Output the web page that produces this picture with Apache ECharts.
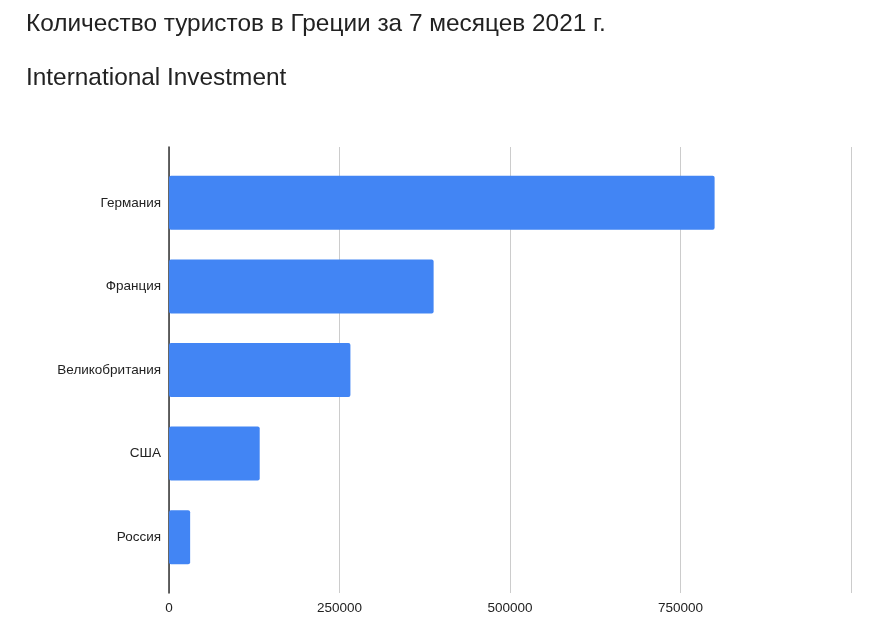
<!DOCTYPE html>
<html><head><meta charset="utf-8">
<script src="https://cdn.jsdelivr.net/npm/echarts@6/dist/echarts.min.js"></script>
<style>html,body{margin:0;padding:0;background:#fff}#c{width:878px;height:632px}</style>
</head><body><div id="c"></div>
<script>
const titleText = 'Количество туристов в Греции за 7 месяцев 2021 г.';
const subtitleText = 'International Investment';
const categories = ['Германия', 'Франция', 'Великобритания', 'США', 'Россия'];
const tourists = [800000, 388000, 266000, 133000, 31000];
const xTicks = [0, 250000, 500000, 750000];

const chart = echarts.init(document.getElementById('c'));
const font = 'Liberation Sans, Arial, sans-serif';
chart.setOption({
  animation: false,
  title: [
    { text: titleText, left: 21, top: 7, textStyle: { fontFamily: font, fontSize: 24.4, fontWeight: 'normal', color: '#222' } },
    { text: subtitleText, left: 21, top: 61, textStyle: { fontFamily: font, fontSize: 24.4, fontWeight: 'normal', color: '#222' } }
  ],
  grid: [
    { left: 169, right: 27, top: 147, bottom: 39 },
    { left: 169, right: 27, top: 161, bottom: 53 }
  ],
  xAxis: [
    { type: 'value', gridIndex: 0, min: 0, max: 1000000, interval: 250000,
      axisLine: { show: false }, axisTick: { show: false },
      splitLine: { show: true, lineStyle: { color: '#cccccc', width: 1 } },
      axisLabel: { margin: 8, fontFamily: font, fontSize: 13.5, color: '#222',
        formatter: v => xTicks.includes(v) ? String(v) : '' } },
    { type: 'value', gridIndex: 1, min: 0, max: 1000000, show: false }
  ],
  yAxis: [
    { type: 'category', gridIndex: 0, data: [''], axisLine: { show: true, lineStyle: { color: '#333', width: 1.5 } },
      axisTick: { show: false }, axisLabel: { show: false }, splitLine: { show: false } },
    { type: 'category', gridIndex: 1, data: categories, inverse: true,
      axisLine: { show: false }, axisTick: { show: false }, splitLine: { show: false },
      axisLabel: { margin: 8, fontFamily: font, fontSize: 13.5, color: '#222' } }
  ],
  series: [{
    type: 'bar', xAxisIndex: 1, yAxisIndex: 1, data: tourists,
    barWidth: 54, itemStyle: { color: '#4285F4', borderRadius: 2 }
  }]
});
</script></body></html>
